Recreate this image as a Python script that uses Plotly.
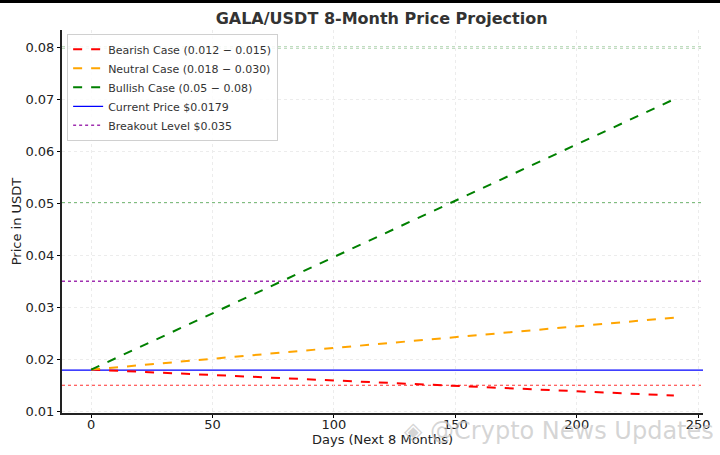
import plotly.graph_objects as go

# projection data (days from today)
days = [0, 240]
bearish = [0.018, 0.013]
neutral = [0.018, 0.028]
bullish = [0.018, 0.070]

current_price = 0.0179
breakout_level = 0.035
bearish_target = 0.015
bullish_targets = [0.05, 0.08]

x_ticks = [0, 50, 100, 150, 200, 250]
y_ticks = [0.01, 0.02, 0.03, 0.04, 0.05, 0.06, 0.07, 0.08]

font_family = "DejaVu Sans"

fig = go.Figure()

fig.add_trace(go.Scatter(x=days, y=bearish, mode="lines", name="Bearish Case (0.012 − 0.015)",
                         line=dict(color="#ff0000", width=2, dash="dash")))
fig.add_trace(go.Scatter(x=days, y=neutral, mode="lines", name="Neutral Case (0.018 − 0.030)",
                         line=dict(color="#ffa500", width=2, dash="dash")))
fig.add_trace(go.Scatter(x=days, y=bullish, mode="lines", name="Bullish Case (0.05 − 0.08)",
                         line=dict(color="#008000", width=2, dash="dash")))

# legend entries for the horizontal reference lines
fig.add_trace(go.Scatter(x=[None], y=[None], mode="lines", name="Current Price $0.0179",
                         line=dict(color="#0000ff", width=1.3)))
fig.add_trace(go.Scatter(x=[None], y=[None], mode="lines", name="Breakout Level $0.035",
                         line=dict(color="#a030b0", width=1.5, dash="dot")))

fig.add_hline(y=current_price, line=dict(color="#0000ff", width=1.2), layer="below")
fig.add_hline(y=breakout_level, line=dict(color="#a030b0", width=1.5, dash="dot"), layer="below")
fig.add_hline(y=bearish_target, line=dict(color="#ff3030", width=1.1, dash="dot"), layer="below")
for t in bullish_targets:
    fig.add_hline(y=t, line=dict(color="#008000", width=1.5, dash="dot"), layer="below")

# dark strip along the top edge
fig.add_shape(type="rect", xref="paper", yref="paper", x0=-0.2, x1=1.2,
              y0=1 + 27 / 383, y1=1 + 36 / 383, line=dict(width=0), fillcolor="black")

# watermark
fig.add_annotation(text="◈ @Crypto News Updates", xref="paper", yref="paper",
                   x=1.02, y=-0.005, xanchor="right", yanchor="top", showarrow=False,
                   font=dict(family=font_family, size=24, color="rgba(195,195,195,0.7)"))

fig.update_layout(
    width=720,
    height=455,
    margin=dict(l=62, r=17, t=30, b=42, autoexpand=False),
    paper_bgcolor="white",
    plot_bgcolor="white",
    font=dict(family=font_family, size=13, color="#222222"),
    title=dict(text="<b>GALA/USDT 8-Month Price Projection</b>", x=0.53, xanchor="center",
               y=0.96, yanchor="middle", automargin=False,
               font=dict(size=16, color="#333333")),
    showlegend=True,
    legend=dict(x=0.008, y=0.99, xanchor="left", yanchor="top", bgcolor="rgba(255,255,255,0.85)",
                bordercolor="#d0d0d0", borderwidth=1, font=dict(size=11, color="#333333"),
                itemwidth=30, tracegroupgap=0),
)

fig.update_xaxes(
    title=dict(text="Days (Next 8 Months)", standoff=2, font=dict(size=13)),
    range=[-12, 252],
    tickvals=x_ticks,
    automargin=False,
    ticks="outside", ticklen=3, tickcolor="black", ticklabelstandoff=-5,
    showline=True, linecolor="#222222", linewidth=2, mirror=False,
    showgrid=True, gridcolor="#ececec", griddash="3px,3px", gridwidth=1,
    zeroline=False,
)
fig.update_yaxes(
    title=dict(text="Price in USDT", standoff=1, font=dict(size=13)),
    range=[0.00965, 0.08335],
    tickvals=y_ticks,
    tickformat=".2f",
    automargin=False,
    ticks="outside", ticklen=3, tickcolor="black",
    showline=True, linecolor="#222222", linewidth=2, mirror=False,
    showgrid=True, gridcolor="#ececec", griddash="3px,3px", gridwidth=1,
    zeroline=False,
)

# the page's default body margin would shift the figure by 8px
fig.write_html("out.html", config={"displayModeBar": False},
               post_script="document.body.style.margin='0';")
